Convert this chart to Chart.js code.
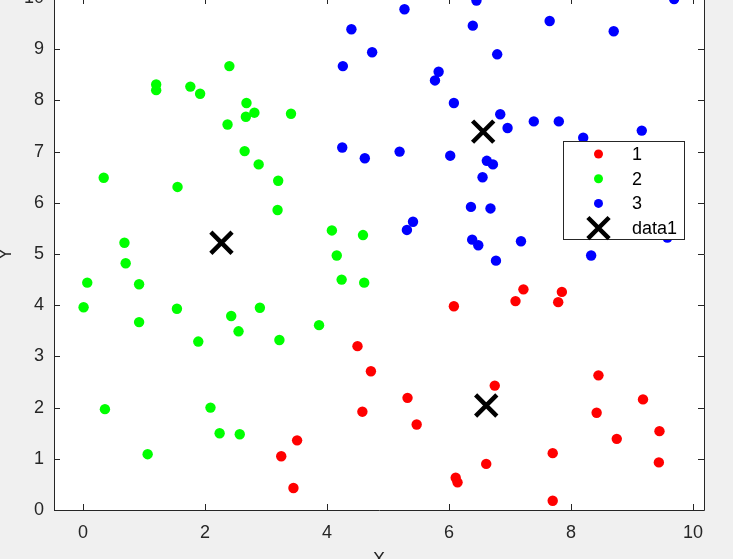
<!DOCTYPE html>
<html>
<head>
<meta charset="utf-8">
<title>kmeans clusters</title>
<script src="https://cdn.jsdelivr.net/npm/chart.js@4.4.1/dist/chart.umd.min.js"></script>
<style>
    html, body { margin: 0; padding: 0; background: #f0f0f0; overflow: hidden; width: 733px; height: 559px; }
    #wrap { position: absolute; left: 0; top: -40px; }
</style>
</head>
<body>
<div id="wrap"><canvas id="clusters" width="733" height="640"></canvas></div>
<script>
// cluster 1 (red)
const group1X = [4.50, 4.72, 6.08, 7.22, 7.09, 7.85, 7.79, 8.45, 6.75, 4.58, 5.32, 5.47, 3.51, 3.25, 3.45, 6.11, 6.14, 6.61, 9.18, 8.42, 9.45, 8.75, 7.70, 9.44, 7.70];
const group1Y = [3.20, 2.71, 3.98, 4.31, 4.08, 4.26, 4.06, 2.63, 2.43, 1.92, 2.19, 1.67, 1.36, 1.05, 0.43, 0.63, 0.54, 0.90, 2.16, 1.90, 1.54, 1.39, 1.11, 0.93, 0.18];

// cluster 2 (green)
const group2X = [0.01, 0.07, 0.68, 0.70, 0.92, 0.92, 1.54, 1.89, 2.43, 2.55, 0.34, 1.55, 1.20, 1.20, 1.76, 1.92, 2.40, 2.37, 2.68, 2.67,
                 2.65, 2.81, 3.41, 2.88, 3.20, 3.19, 4.08, 4.59, 4.16, 4.24, 4.61, 2.90, 3.22, 3.87, 0.36, 1.06, 2.09, 2.24, 2.57];
const group2Y = [3.96, 4.44, 5.22, 4.82, 4.41, 3.67, 3.93, 3.29, 3.79, 3.49, 6.49, 6.31, 8.31, 8.20, 8.27, 8.13, 8.67, 7.53, 7.95, 7.68,
                 7.01, 7.76, 7.74, 6.75, 6.43, 5.86, 5.46, 5.37, 4.97, 4.50, 4.44, 3.95, 3.32, 3.61, 1.97, 1.09, 2.00, 1.50, 1.48];

// cluster 3 (blue)
const group3X = [6.36, 6.68, 7.18, 6.77, 8.33, 9.58, 5.41, 5.31, 6.38, 6.48, 5.27, 4.40, 4.74, 4.26, 5.83, 5.77, 6.08, 6.45, 6.39, 4.25,
                 4.62, 5.19, 6.02, 6.62, 6.55, 9.69, 7.65, 8.70, 6.79, 6.84, 6.96, 7.39, 7.80, 9.16, 8.20, 6.72];
const group3Y = [5.92, 5.89, 5.25, 4.87, 4.97, 5.32, 5.63, 5.47, 5.28, 5.17, 9.78, 9.39, 8.94, 8.67, 8.56, 8.39, 7.95, 9.95, 9.46, 7.08,
                 6.87, 7.00, 6.92, 6.82, 6.50, 9.98, 9.55, 9.35, 8.90, 7.73, 7.46, 7.59, 7.59, 7.41, 7.27, 6.75];

// centroids
const centroidX = [6.61, 2.27, 6.56];
const centroidY = [2.04, 5.22, 7.39];

const groupLabels = ['1', '2', '3', 'data1'];
const xTicks = [0, 2, 4, 6, 8, 10];
const yTicks = [0, 1, 2, 3, 4, 5, 6, 7, 8, 9, 10];

const toPoints = (xs, ys) => xs.map((x, i) => ({ x: x, y: ys[i] }));

const axisColor = '#262626';
const tickFont = { family: 'Liberation Sans', size: 18 };

// white plot area, box with inward ticks, and the legend
const plotFrame = {
    id: 'plotFrame',
    beforeDraw(chart) {
        const { ctx, chartArea: a } = chart;
        ctx.save();
        ctx.fillStyle = '#f0f0f0';
        ctx.fillRect(0, 0, chart.width, chart.height);
        ctx.fillStyle = '#ffffff';
        ctx.fillRect(a.left, a.top, a.right - a.left, a.bottom - a.top);
        ctx.restore();
    },
    afterDraw(chart) {
        const { ctx, chartArea: a } = chart;
        const xs = chart.scales.x, ys = chart.scales.y;
        const len = 6;
        ctx.save();
        ctx.strokeStyle = axisColor;
        ctx.lineWidth = 1;
        ctx.beginPath();
        ctx.rect(Math.round(a.left) + 0.5, Math.round(a.top) + 0.5, Math.round(a.right - a.left), Math.round(a.bottom - a.top));
        xTicks.forEach(v => {
            const px = Math.round(xs.getPixelForValue(v)) + 0.5;
            ctx.moveTo(px, a.bottom); ctx.lineTo(px, a.bottom - len);
            ctx.moveTo(px, a.top); ctx.lineTo(px, a.top + len);
        });
        yTicks.forEach(v => {
            const py = Math.round(ys.getPixelForValue(v)) + 0.5;
            ctx.moveTo(a.left, py); ctx.lineTo(a.left + len, py);
            ctx.moveTo(a.right, py); ctx.lineTo(a.right - len, py);
        });
        ctx.stroke();

        // legend box (top offset 40 because the canvas is shifted up)
        const bx = 563.5, by = 141.5 + 40, bw = 121, bh = 98;
        ctx.fillStyle = '#ffffff';
        ctx.fillRect(bx, by, bw, bh);
        ctx.strokeRect(bx, by, bw, bh);
        ctx.font = '18px "Liberation Sans"';
        ctx.textBaseline = 'middle';
        ctx.textAlign = 'left';
        chart.data.datasets.forEach((ds, i) => {
            const cy = 154 + 40 + i * 24.7;
            ctx.fillStyle = ds.backgroundColor;
            ctx.strokeStyle = ds.borderColor;
            ctx.lineWidth = ds.borderWidth;
            const r = ds.pointStyle === 'crossRot' ? ds.pointRadius : 4.5;
            Chart.helpers.drawPoint(ctx, { pointStyle: ds.pointStyle, rotation: 0, radius: r, borderWidth: ds.borderWidth }, 598.5, cy);
            ctx.fillStyle = '#000000';
            ctx.fillText(ds.label, 632, cy + 1);
        });
        ctx.restore();
    }
};

new Chart(document.getElementById('clusters'), {
    type: 'scatter',
    data: {
        datasets: [
            { label: groupLabels[0], data: toPoints(group1X, group1Y), backgroundColor: '#ff0000', borderColor: '#ff0000',
              pointStyle: 'circle', pointRadius: 5.2, borderWidth: 0, order: 4 },
            { label: groupLabels[1], data: toPoints(group2X, group2Y), backgroundColor: '#00ff00', borderColor: '#00ff00',
              pointStyle: 'circle', pointRadius: 5.2, borderWidth: 0, order: 3 },
            { label: groupLabels[2], data: toPoints(group3X, group3Y), backgroundColor: '#0000ff', borderColor: '#0000ff',
              pointStyle: 'circle', pointRadius: 5.2, borderWidth: 0, order: 2 },
            { label: groupLabels[3], data: toPoints(centroidX, centroidY), backgroundColor: '#000000', borderColor: '#000000',
              pointStyle: 'crossRot', pointRadius: 15, borderWidth: 4.5, order: 1 }
        ]
    },
    options: {
        responsive: false,
        animation: false,
        layout: { padding: { top: 38, right: 29, left: 0, bottom: 0 } },
        plugins: {
            legend: { display: false },
            tooltip: { enabled: false }
        },
        scales: {
            x: {
                type: 'linear',
                min: -0.475,
                max: 10.18,
                afterBuildTicks: s => { s.ticks = xTicks.map(v => ({ value: v })); },
                afterFit: s => { s.height = 90; },
                grid: { display: false, drawTicks: false },
                border: { display: false },
                ticks: { font: tickFont, color: axisColor, padding: 12 },
                title: { display: true, text: 'X', font: tickFont, color: axisColor, padding: { top: 0, bottom: 29 } }
            },
            y: {
                type: 'linear',
                min: 0,
                max: 10,
                afterBuildTicks: s => { s.ticks = yTicks.map(v => ({ value: v })); },
                afterFit: s => { s.width = 54; },
                grid: { display: false, drawTicks: false },
                border: { display: false },
                ticks: { font: tickFont, color: axisColor, padding: 10 },
                title: { display: true, text: 'Y', font: tickFont, color: axisColor, padding: { top: -5, bottom: 0 } }
            }
        }
    },
    plugins: [plotFrame]
});
</script>
</body>
</html>
